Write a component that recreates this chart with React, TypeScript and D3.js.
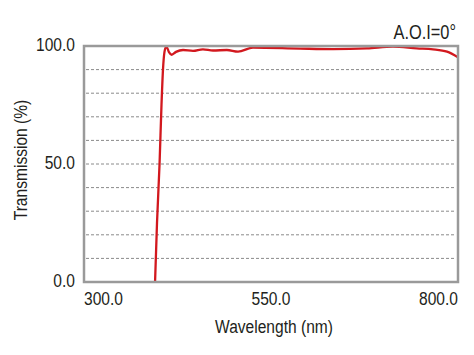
import React from "react";
import * as d3 from "d3";

const wavelengths = [395, 397.6, 401, 403.6, 405.6, 407.6, 409.6, 410.5, 413.6, 417.2, 423, 432.4, 445.7, 459, 472.5, 491, 505.9, 525.9, 588.8, 632.9, 678.3, 713, 745, 766.6, 785.3, 800];
const transmission = [0, 25, 50, 75, 90, 97.5, 99.5, 99.6, 97.4, 96.3, 97.5, 98.3, 97.9, 98.6, 98.1, 98.3, 97.6, 99.3, 98.9, 98.7, 99.0, 99.7, 99.0, 98.6, 97.6, 95.2];
const xTicks = [300, 550, 800];
const yTicks = [0, 50, 100];
const gridValues = [10, 20, 30, 40, 50, 60, 70, 80, 90];

const W = 474, H = 355;
const M = { left: 84, right: 458, top: 46, bottom: 282 };
const FONT = "'Liberation Sans', Arial, sans-serif";
const SX = 0.82;

function T({ x, y, anchor, size, children, rotate }: any) {
  const tr = rotate ? `translate(${x},${y}) rotate(${rotate}) scale(${SX},1)` : `translate(${x},${y}) scale(${SX},1)`;
  return (
    <g transform={tr}>
      <text x={0} y={0} textAnchor={anchor} fontFamily={FONT} fontSize={size} fill="#231f20">{children}</text>
    </g>
  );
}

export default function App() {
  const x = d3.scaleLinear().domain([300, 800]).range([M.left, M.right]);
  const y = d3.scaleLinear().domain([0, 100]).range([M.bottom, M.top]);
  const data = wavelengths.map((w, i) => [w, transmission[i]] as [number, number]);
  const line = d3.line<[number, number]>().x(d => x(d[0])).y(d => y(d[1])).curve(d3.curveMonotoneX);

  return (
    <svg width={W} height={H} style={{ position: "absolute", left: 0, top: 0, background: "#fff" }}>
      {gridValues.map(v => (
        <line key={v} x1={M.left + 2} x2={M.right - 2} y1={y(v)} y2={y(v)} stroke="#8a8a8a" strokeWidth={1} strokeDasharray="3,2" />
      ))}
      <path d={line(data) || ""} fill="none" stroke="#d2181e" strokeWidth={2.3} />
      <rect x={M.left} y={M.top} width={M.right - M.left} height={M.bottom - M.top} fill="none" stroke="#9a9a9a" strokeWidth={2.5} />
      {yTicks.map(v => (
        <T key={v} x={75} y={y(v) + 5} anchor="end" size={19}>{v.toFixed(1)}</T>
      ))}
      {xTicks.map((v, i) => (
        <T key={v} x={x(v)} y={305} anchor={i === 0 ? "start" : i === xTicks.length - 1 ? "end" : "middle"} size={19}>{v.toFixed(1)}</T>
      ))}
      <T x={274} y={333} anchor="middle" size={19}>Wavelength (nm)</T>
      <T x={27} y={160} anchor="middle" size={19} rotate={-90}>Transmission (%)</T>
      <T x={456} y={39} anchor="end" size={20}>A.O.I=0°</T>
    </svg>
  );
}
